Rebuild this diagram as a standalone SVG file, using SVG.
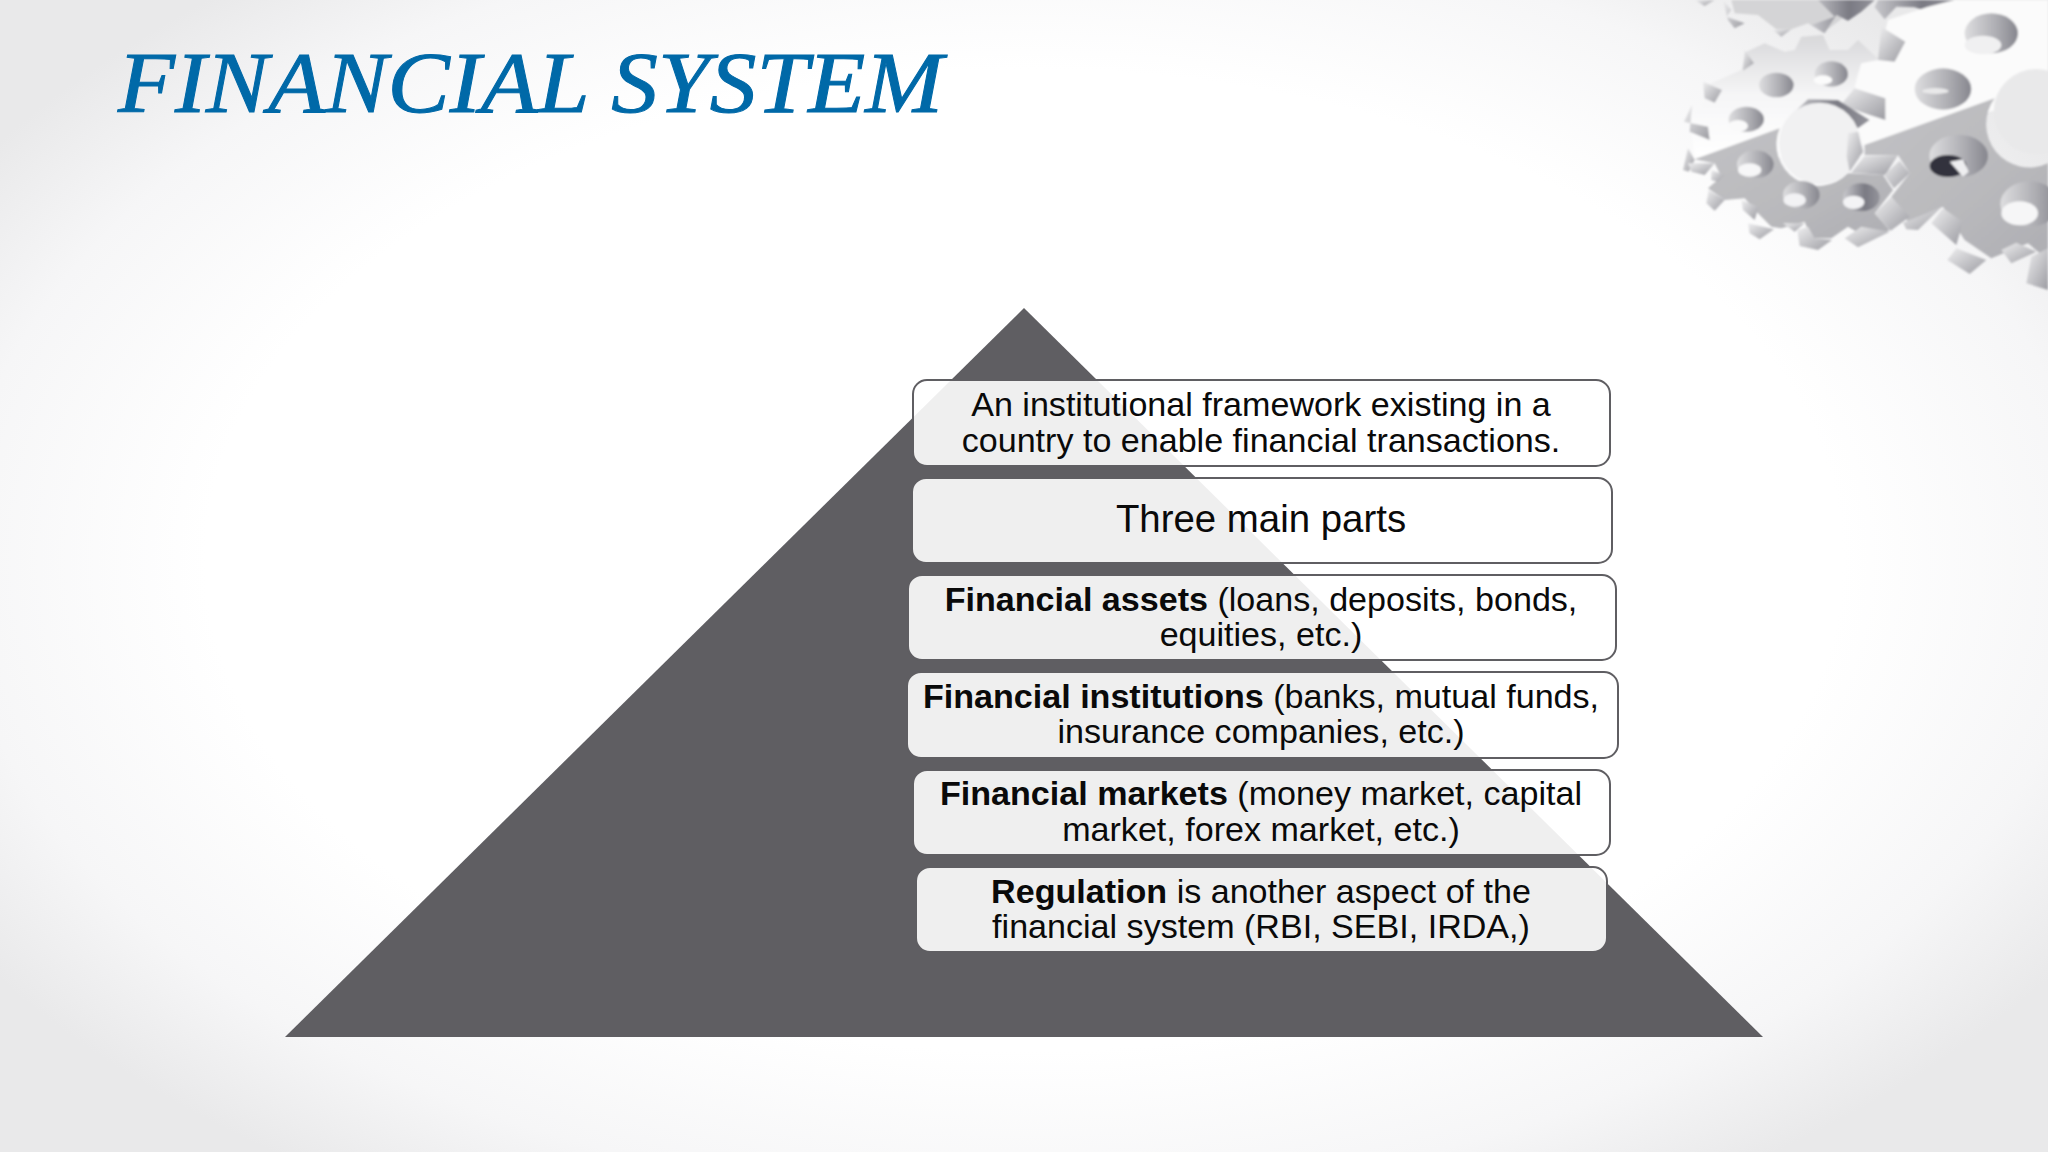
<svg xmlns="http://www.w3.org/2000/svg" width="2048" height="1152" viewBox="0 0 2048 1152">
<style>
.box{fill:#fff;fill-opacity:.9;stroke:#5f5e62;stroke-width:2}
.t{font-family:"Liberation Sans",Arial,sans-serif;font-size:34.1px;fill:#0a0a0a;text-anchor:middle}
.b{font-weight:700}
.side{fill:url(#side)}
.hole{fill:url(#hole)}
</style>
<defs>
<radialGradient id="bg" gradientUnits="userSpaceOnUse" cx="1024" cy="560" r="1240" gradientTransform="translate(0 224) scale(1 .6)">
<stop offset="0" stop-color="#fff"/><stop offset=".66" stop-color="#fff"/><stop offset=".86" stop-color="#f6f6f7"/><stop offset="1" stop-color="#e9e9ea"/>
</radialGradient>
<linearGradient id="side" x1="0" y1="0" x2="1" y2="1"><stop offset="0" stop-color="#efeff0"/><stop offset="1" stop-color="#9c9ca2"/></linearGradient>
<linearGradient id="hole" x1="0" y1="0" x2="1" y2="0"><stop offset="0" stop-color="#dedee0"/><stop offset=".6" stop-color="#adadb2"/><stop offset="1" stop-color="#86868e"/></linearGradient>
<linearGradient id="face" x1="0" y1="0" x2="1" y2="1"><stop offset="0" stop-color="#c2c2c5"/><stop offset=".6" stop-color="#b9b9bc"/><stop offset="1" stop-color="#aeaeb3"/></linearGradient>
<linearGradient id="pale" x1="0" y1="0" x2="0" y2="1"><stop offset="0" stop-color="#d8d8da"/><stop offset=".5" stop-color="#f6f6f7"/><stop offset="1" stop-color="#fff"/></linearGradient>
<linearGradient id="dark" x1="0" y1="0" x2="1" y2="0"><stop offset="0" stop-color="#c8c8cc"/><stop offset=".6" stop-color="#7a7a83"/><stop offset="1" stop-color="#94949b"/></linearGradient>
<filter id="soft" x="-5%" y="-5%" width="110%" height="110%"><feGaussianBlur stdDeviation="2.4"/></filter>
</defs>
<rect width="2048" height="1152" fill="url(#bg)"/>

<g id="gears" transform="translate(1648 0) scale(.33333)" filter="url(#soft)">
<polygon points="140,0 170,18 200,0" class="side"/>
<polygon points="225,0 250,30 235,50 290,70 260,85 240,60" class="side"/>
<polygon fill="#d4d4d6" points="250,0 260,40 330,45 385,88 430,88 480,70 525,98 590,50 680,0"/>
<polygon fill="url(#dark)" points="510,0 680,0 640,35 600,62 565,45 530,100 490,75 560,50"/>
<polygon class="side" points="375,90 430,88 400,110"/>
<polygon fill="url(#dark)" points="690,0 920,0 880,32 850,40 800,22 745,20 710,58 680,22"/>
<polygon fill="url(#pale)" points="295,155 350,130 410,155 440,150 460,110 525,105 545,150 600,150 630,120 700,185 640,190 610,270 715,300 660,385 630,400 640,470 140,470 125,350 165,310 190,250 280,210"/>
<polygon class="side" points="290,150 318,190 285,212"/>
<polygon class="side" points="165,245 222,270 200,308 170,295"/>
<polygon class="side" points="132,315 108,365 180,380 185,420 125,395"/>
<polygon class="side" points="120,445 140,480 122,515 105,510"/>
<polygon fill="#fbfbfb" points="720,60 840,20 920,0 1200,0 1200,290 640,435 632,350 620,260 640,190 690,180"/>
<polygon class="side" points="700,80 772,125 740,185 690,180"/>
<polygon class="side" points="620,265 712,295 712,360 665,345 578,315"/>
<polygon fill="url(#dark)" points="430,345 480,298 570,300 665,360 630,385 560,340"/>
<ellipse cx="1030" cy="100" rx="80" ry="60" class="hole"/>
<ellipse cx="1005" cy="135" rx="55" ry="28" fill="#f0f0f1"/>
<ellipse cx="885" cy="267" rx="85" ry="62" class="hole"/>
<ellipse cx="862" cy="273" rx="40" ry="9" fill="#e8e8e9"/>
<ellipse cx="550" cy="222" rx="50" ry="38" class="hole"/>
<ellipse cx="525" cy="240" rx="28" ry="14" fill="#fbfbfb"/>
<ellipse cx="385" cy="255" rx="52" ry="37" class="hole"/>
<ellipse cx="295" cy="358" rx="53" ry="38" class="hole"/>
<ellipse cx="270" cy="378" rx="30" ry="18" fill="#fafafa"/>

<path fill="url(#face)" d="M140,478L395,385A125,125 0 0 0 600,520L705,525L735,570L680,640L725,690L660,715L600,680L550,715L490,715L470,665L400,685L370,680L330,640L290,595L230,600L180,565L220,530L200,490Z"/>
<path fill="url(#face)" d="M650,435L1040,295A130,130 0 0 0 1200,490V780L1140,730L1030,775L950,720L885,620L780,665L730,590L785,520L750,465L650,465Z"/>
<circle cx="515" cy="430" r="122" fill="#f1f1f2"/>
<circle cx="1165" cy="335" r="128" fill="#e9e9ea"/>
<polygon class="side" points="600,400 630,395 645,455 605,515 596,470"/>
<polygon class="side" points="650,468 750,465 712,525 610,518"/>
<polygon class="side" points="708,525 755,482 785,520 738,565"/>
<polygon class="side" points="680,640 730,590 785,650 728,692"/>
<polygon class="side" points="765,668 880,622 810,690 775,688"/>
<polygon class="side" points="885,625 945,665 925,735 850,670"/>
<polygon class="side" points="925,745 1015,780 965,822 898,780"/>
<polygon class="side" points="1060,750 1105,728 1165,755 1090,790"/>
<polygon class="side" points="1150,770 1200,745 1200,870 1135,850"/>
<polygon class="side" points="120,490 200,490 170,525 130,515"/>
<polygon class="side" points="190,510 230,525 210,545 190,540"/>
<polygon class="side" points="182,570 230,600 200,632 175,610"/>
<polygon class="side" points="280,600 332,620 320,660 285,630"/>
<polygon class="side" points="300,670 378,688 335,718 305,700"/>
<polygon class="side" points="405,670 470,670 440,695"/>
<polygon class="side" points="448,690 480,680 500,715 552,720 510,750 455,738"/>
<polygon class="side" points="590,715 640,680 725,695 630,742"/>
<ellipse cx="322" cy="493" rx="55" ry="42" class="hole"/>
<ellipse cx="305" cy="510" rx="35" ry="20" fill="#f7f7f8"/>
<ellipse cx="460" cy="585" rx="55" ry="42" class="hole"/>
<ellipse cx="440" cy="600" rx="34" ry="20" fill="#f2f2f4"/>
<ellipse cx="640" cy="592" rx="55" ry="42" fill="url(#dark)"/>
<ellipse cx="617" cy="607" rx="32" ry="20" fill="#f3f3f5"/>
<ellipse cx="932" cy="468" rx="88" ry="64" class="hole"/>
<ellipse cx="900" cy="498" rx="55" ry="33" fill="#33333d"/>
<polygon points="905,485 945,478 962,515 945,530" fill="#eeeef0"/>
<ellipse cx="1145" cy="612" rx="88" ry="68" class="hole"/>
<ellipse cx="1115" cy="640" rx="55" ry="36" fill="#f6f6f7"/>
</g>

<text id="title" x="118" y="112" font-family="Liberation Serif, Times New Roman, serif" font-style="italic" font-size="86" fill="#0069a8" stroke="#0069a8" stroke-width="1" textLength="825" lengthAdjust="spacingAndGlyphs">FINANCIAL SYSTEM</text>

<polygon id="pyramid" points="1024,308 1763,1037 285,1037" fill="#5f5e62"/>

<g id="node-1"><rect class="box" x="913" y="380" width="697" height="86" rx="14"/>
<text class="t" x="1261" y="416">An institutional framework existing in a</text>
<text class="t" x="1261" y="452">country to enable financial transactions.</text></g>
<g id="node-2"><rect class="box" x="912" y="478" width="700" height="85" rx="14"/>
<text class="t" x="1261" y="532" style="font-size:38.4px">Three main parts</text></g>
<g id="node-3"><rect class="box" x="908" y="575" width="708" height="85" rx="14"/>
<text class="t" x="1261" y="611"><tspan class="b">Financial assets</tspan> (loans, deposits, bonds,</text>
<text class="t" x="1261" y="646">equities, etc.)</text></g>
<g id="node-4"><rect class="box" x="907" y="672" width="711" height="86" rx="14"/>
<text class="t" x="1261" y="708"><tspan class="b">Financial institutions</tspan> (banks, mutual funds,</text>
<text class="t" x="1261" y="743">insurance companies, etc.)</text></g>
<g id="node-5"><rect class="box" x="913" y="770" width="697" height="85" rx="14"/>
<text class="t" x="1261" y="805"><tspan class="b">Financial markets</tspan> (money market, capital</text>
<text class="t" x="1261" y="841">market, forex market, etc.)</text></g>
<g id="node-6"><rect class="box" x="916" y="867" width="691" height="85" rx="14"/>
<text class="t" x="1261" y="903"><tspan class="b">Regulation</tspan> is another aspect of the</text>
<text class="t" x="1261" y="938">financial system (RBI, SEBI, IRDA,)</text></g>
<g id="connectors"/>
</svg>
